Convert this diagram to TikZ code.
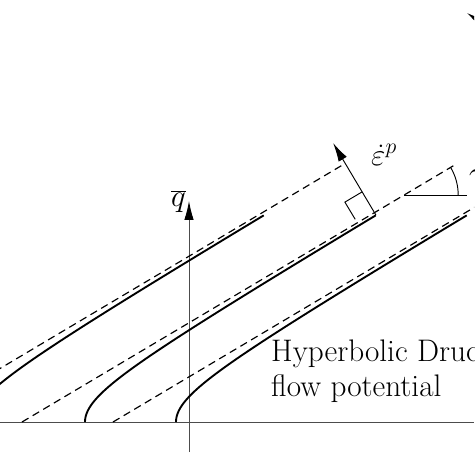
\RequirePackage{fix-cm}
\documentclass[tikz,border=0pt]{standalone}
\usetikzlibrary{arrows.meta}
\begin{document}
\begin{tikzpicture}[x=0.85pt,y=-0.85pt,
  axisline/.style={draw=black!70, line width=0.8pt},
  yieldcurve/.style={line width=1.6pt},
  asymptote/.style={line width=1pt, dash pattern=on 6.4pt off 4.1pt},
  thinline/.style={line width=0.8pt},
  bigarrow/.style={-{Latex[length=16pt,width=8pt,black]}},
  lbl/.style={font=\fontsize{26.5}{29}\selectfont, inner sep=0pt}]
\useasboundingbox (0,0) rectangle (474,474);
\clip (0,0) rectangle (474,474);
% axes
\coordinate (xl) at (0,422);
\coordinate (xr) at (474,422);
\coordinate (yb) at (189,452);
\coordinate (yt) at (189,201);
\draw[axisline] (xl) -- (xr);
\draw[axisline, bigarrow] (yb) -- (yt);
\node[lbl, anchor=base east] (qlab) at (186,206) {$\overline{q}$};
% asymptotes (linear Drucker-Prager)
\coordinate (a1s) at (-90,422); \coordinate (a1e) at (345.2,163.4);
\coordinate (a2s) at (22,422);  \coordinate (a2e) at (456,164.2);
\coordinate (a3s) at (113,422); \coordinate (a3e) at (563,154.7);
\draw[asymptote] (a1s) -- (a1e);
\draw[asymptote] (a2s) -- (a2e);
\draw[asymptote] (a3s) -- (a3e);
% hyperbolic flow potentials
\draw[yieldcurve] plot[domain=0:2.411, samples=90, smooth, variable=\t] ({-90+63*cosh(\t)},{422-37.4*sinh(\t)});
\draw[yieldcurve] plot[domain=0:2.411, samples=90, smooth, variable=\t] ({22+63*cosh(\t)},{422-37.4*sinh(\t)});
\draw[yieldcurve] plot[domain=0:2.411, samples=90, smooth, variable=\t] ({113+63*cosh(\t)},{422-37.4*sinh(\t)});
% plastic strain rate direction
\coordinate (F) at (376,215.2);
\coordinate (T) at (333.1,143);
\draw[thinline, bigarrow] (F) -- (T);
\node[lbl, anchor=base west] (eplab) at (371,165) {$\dot{\varepsilon}^p$};
% right-angle mark
\coordinate (sq1) at (362.1,191.9);
\coordinate (sq2) at (344.9,202.1);
\coordinate (sq3) at (355.2,219.3);
\draw[thinline] (sq1) -- (sq2) -- (sq3);
% angle gamma
\coordinate (gv) at (404.2,195);
\coordinate (gh) at (467,195);
\draw[thinline] (gv) -- (gh);
\draw[thinline] (458.2,195) arc[start angle=0, end angle=-30.7, radius=54];
\node[lbl, anchor=west] (glab) at (469,180) {$\gamma$};
% partial arrow at top right
\coordinate (tr1) at (492,30);
\coordinate (tr2) at (467,13);
\draw[thinline, bigarrow] (tr1) -- (tr2);
% label
\node[lbl, anchor=base west, align=left] (hdp) at (271,396) {Hyperbolic Drucker-Prager\\flow potential};
\end{tikzpicture}
\end{document}
